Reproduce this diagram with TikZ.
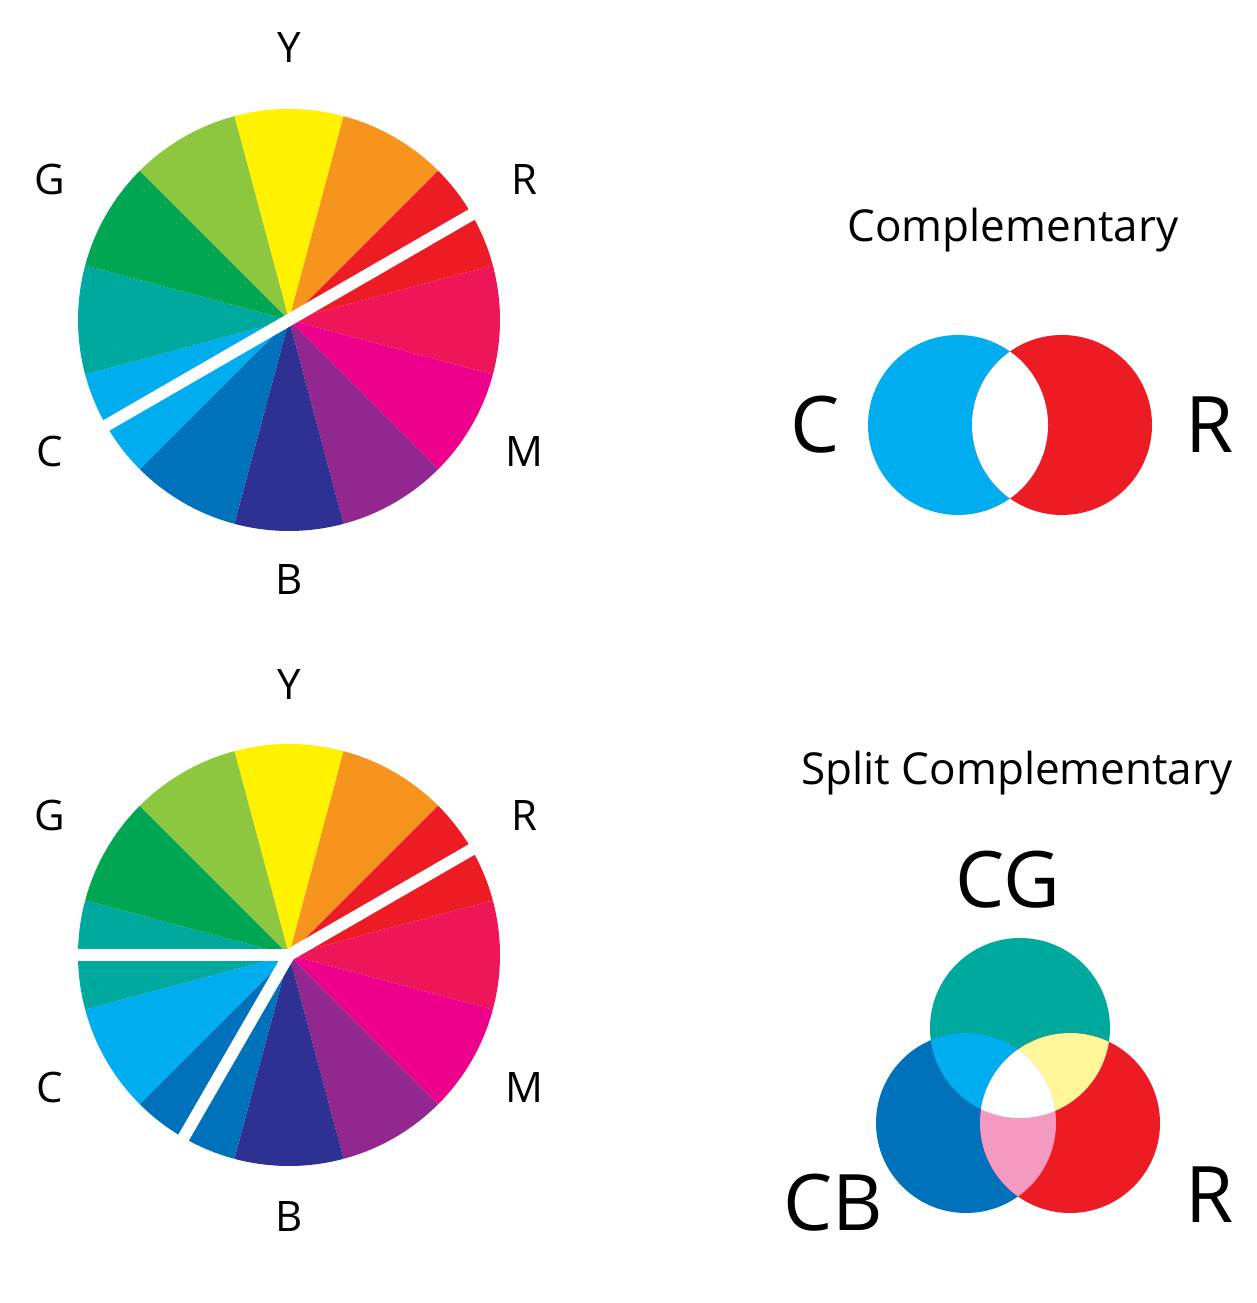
\documentclass[tikz,border=0pt]{standalone}
\usepackage{fontspec}
\setmainfont{Open Sans}
\definecolor{cY}{HTML}{FFF200}
\definecolor{cO}{HTML}{F7941D}
\definecolor{cR}{HTML}{ED1C24}
\definecolor{cCr}{HTML}{EE1558}
\definecolor{cM}{HTML}{EC008C}
\definecolor{cP}{HTML}{92278F}
\definecolor{cDB}{HTML}{2E3192}
\definecolor{cB}{HTML}{0072BC}
\definecolor{cC}{HTML}{00AEEF}
\definecolor{cT}{HTML}{00A99D}
\definecolor{cG}{HTML}{00A651}
\definecolor{cLG}{HTML}{8DC63F}
\definecolor{cLY}{HTML}{FFF799}
\definecolor{cPk}{HTML}{F49AC1}
\tikzset{lbl/.style={font=\fontsize{42}{42}\selectfont,inner sep=0pt},
 big/.style={font=\fontsize{78}{78}\selectfont,inner sep=0pt},
 ttl/.style={font=\fontsize{44}{44}\selectfont,inner sep=0pt},
 gap/.style={white,line width=12pt}}
\newcommand{\wheel}[2]{%
 \foreach \a/\c in {75/cY,45/cO,15/cR,-15/cCr,-45/cM,-75/cP,-105/cDB,-135/cB,-165/cC,165/cT,135/cG,105/cLG}{
  \fill[\c] (#1,#2) -- ++(\a:211) arc[start angle=\a, end angle=\a+30, radius=211] -- cycle;}}
\begin{document}
\begin{tikzpicture}[x=1pt,y=1pt]
\useasboundingbox (0,0) rectangle (1256,1303);
% top wheel
\wheel{289}{983}
\coordinate (tc) at (289,983);
\draw[gap] (tc) -- ++(30:225);
\draw[gap] (tc) -- ++(210:225);
\node[lbl] (ty) at (289,1255) {Y};
\node[lbl] (tg) at (50,1123) {G};
\node[lbl] (tr) at (524,1123) {R};
\node[lbl] (tcl) at (50,851) {C};
\node[lbl] (tm) at (524,851) {M};
\node[lbl] (tb) at (289,723) {B};
% bottom wheel
\wheel{289}{348}
\coordinate (bc) at (289,348);
\draw[gap] (bc) -- ++(30:225);
\draw[gap] (bc) -- ++(180:225);
\draw[gap] (bc) -- ++(240:225);
\node[lbl] (by) at (289,618) {Y};
\node[lbl] (bg) at (50,487) {G};
\node[lbl] (br) at (524,487) {R};
\node[lbl] (bcl) at (50,215) {C};
\node[lbl] (bm) at (524,215) {M};
\node[lbl] (bb) at (289,86) {B};
% complementary
\node[ttl] (t1) at (1013,1073) {Complementary};
\fill[cC] (958,878) circle[radius=90];
\fill[cR] (1062,878) circle[radius=90];
\begin{scope}\clip (958,878) circle[radius=90];\fill[white] (1062,878) circle[radius=90];\end{scope}
\node[big] (cc) at (815,878) {C};
\node[big] (cr) at (1210,878) {R};
% split complementary
\node[ttl] (t2) at (1017,530) {Split Complementary};
\coordinate (g) at (1020,275);
\coordinate (bl) at (966,180);
\coordinate (rd) at (1070,180);
\fill[cT] (g) circle[radius=90];
\fill[cB] (bl) circle[radius=90];
\fill[cR] (rd) circle[radius=90];
\begin{scope}\clip (g) circle[radius=90];\fill[cC] (bl) circle[radius=90];\fill[cLY] (rd) circle[radius=90];\end{scope}
\begin{scope}\clip (bl) circle[radius=90];\fill[cPk] (rd) circle[radius=90];\end{scope}
\begin{scope}\clip (g) circle[radius=90];\clip (bl) circle[radius=90];\fill[white] (rd) circle[radius=90];\end{scope}
\node[big] (scg) at (1008,423) {CG};
\node[big] (scb) at (833,100) {CB};
\node[big] (sr) at (1210,108) {R};
\end{tikzpicture}
\end{document}
